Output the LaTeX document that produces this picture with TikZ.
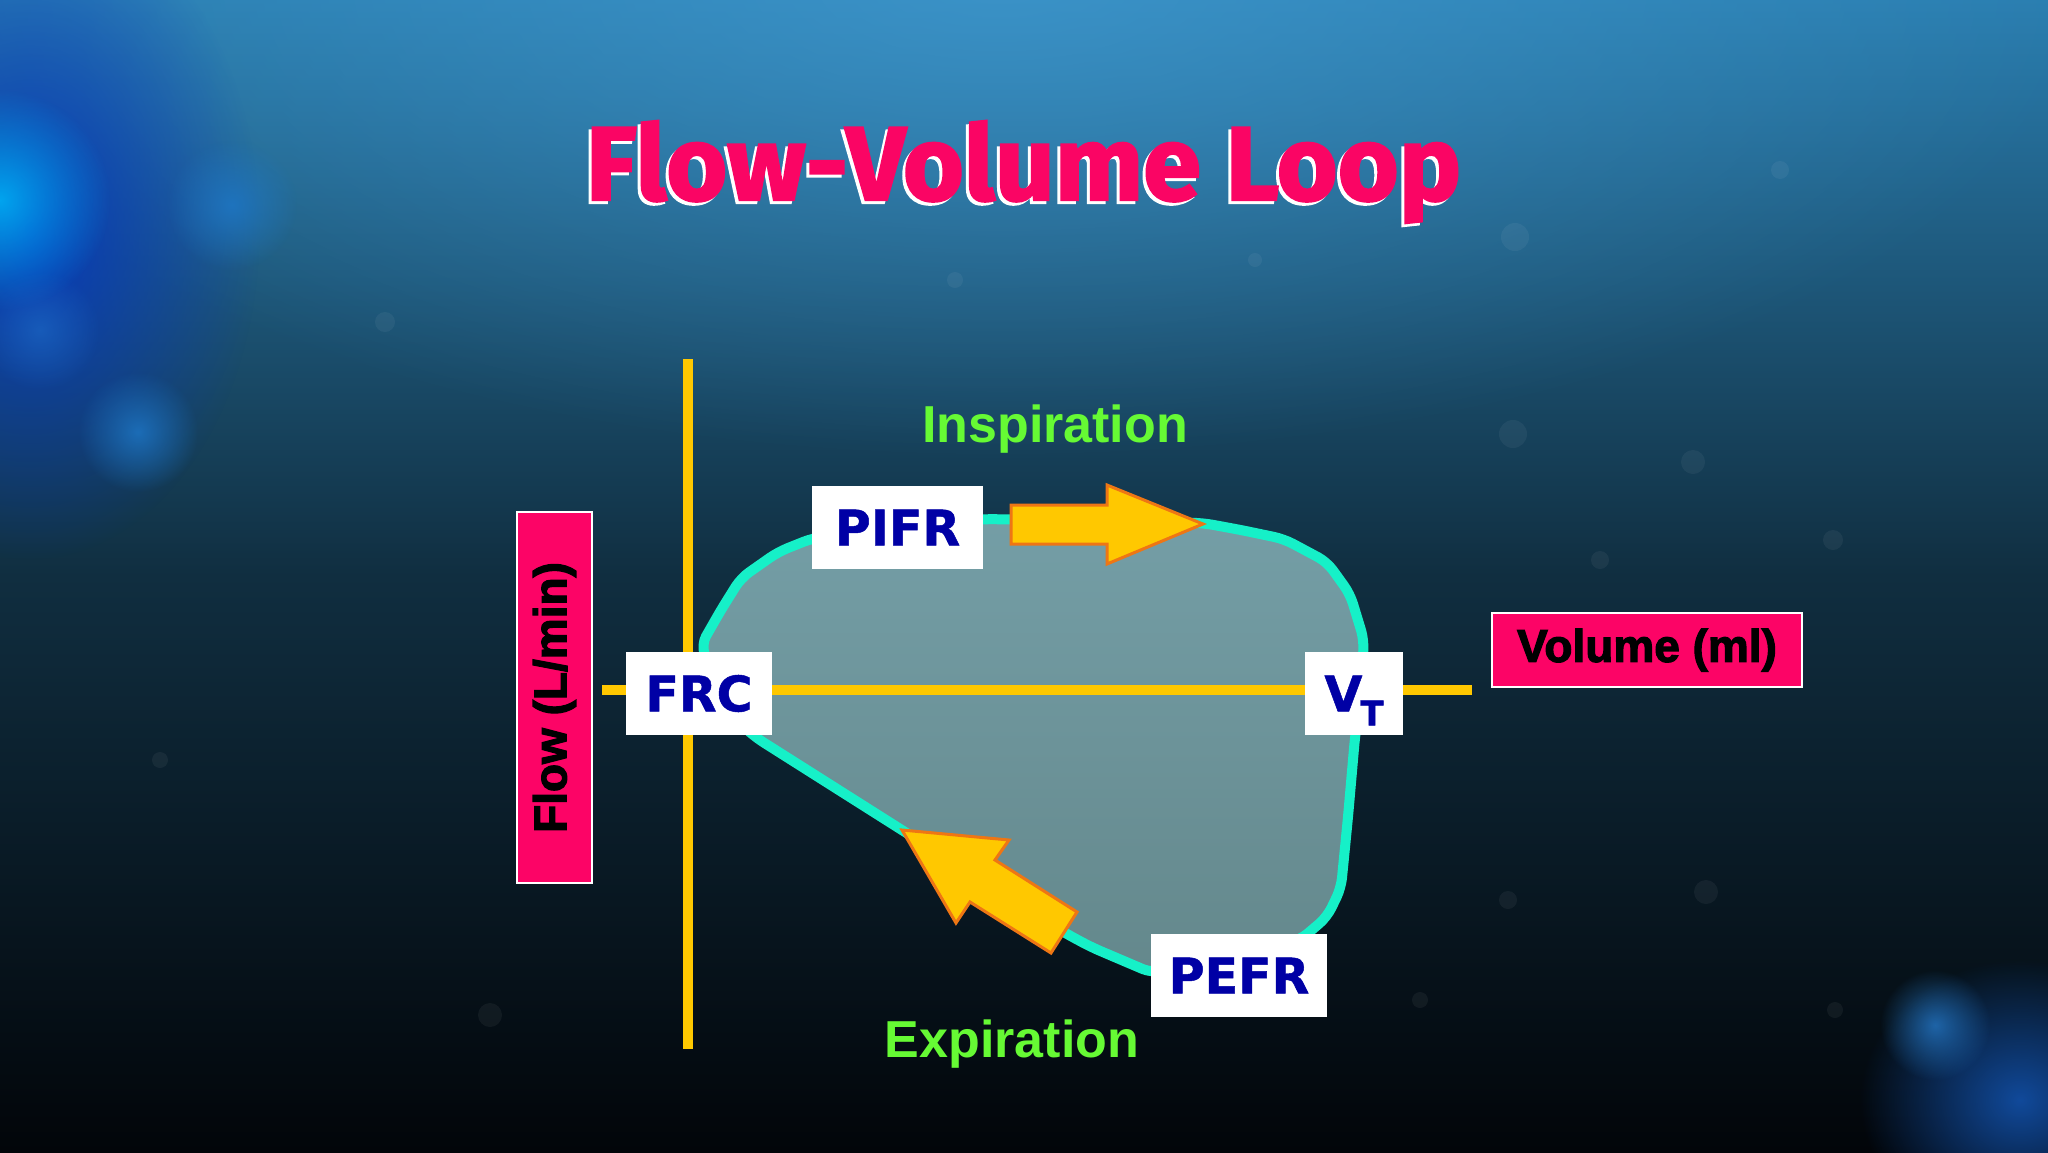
\documentclass[tikz,border=0pt]{standalone}
\usepackage{fontspec}
\setmainfont{Liberation Sans}
\newfontfamily\titlefont{Fira Sans}[BoldFeatures={FakeBold=2}]
\newfontfamily\labfont{DejaVu Sans}[BoldFeatures={FakeBold=1}]
\newfontfamily\heavyfont{Liberation Sans}[BoldFeatures={FakeBold=2.5}]
\usetikzlibrary{fadings}
\tikzfading[name=glowfade, inner color=transparent!0, outer color=transparent!100]
\definecolor{bgtop}{RGB}{42,126,176}
\definecolor{bgmid}{RGB}{16,46,64}
\definecolor{bgbot}{RGB}{2,5,9}
\definecolor{pinkc}{RGB}{252,4,102}
\definecolor{titlec}{RGB}{250,5,100}
\definecolor{axisc}{RGB}{255,200,0}
\definecolor{loopc}{RGB}{22,240,200}
\definecolor{filltop}{RGB}{116,158,166}
\definecolor{fillbot}{RGB}{100,136,140}
\definecolor{arrowc}{RGB}{255,200,0}
\definecolor{arrowedge}{RGB}{238,118,20}
\definecolor{labblue}{RGB}{0,0,165}
\definecolor{greenc}{RGB}{102,250,52}
\newcommand\mytitle{\resizebox{875pt}{!}{\titlefont\bfseries Flow-Volume Loop}}
\begin{document}
\begin{tikzpicture}[x=1pt,y=-1pt,
  axisline/.style={draw=axisc, line width=9.5pt},
  labelbox/.style={fill=white, inner sep=0pt, minimum height=83pt, text=labblue,
    font={\labfont\bfseries\fontsize{49}{49}\selectfont}},
  pinkbox/.style={fill=pinkc, draw=white, line width=2.5pt, inner sep=0pt,
    font={\heavyfont\bfseries\fontsize{46}{46}\selectfont}, text=black},
  phase/.style={anchor=base, text=greenc, font={\bfseries\fontsize{52}{52}\selectfont}},
  bigarrow/.style={fill=arrowc, draw=arrowedge, line width=3pt, line join=miter},
  glow/.style={path fading=glowfade}
]
\useasboundingbox (0,0) rectangle (2048,1152);
% background
\shade[top color=bgtop, bottom color=bgbot, middle color=bgmid] (0,0) rectangle (2048,1152);
\fill[glow, color={rgb,255:red,70;green,160;blue,215}, opacity=0.6] (1000,-20) ellipse (1100 and 480);
\fill[glow, color={rgb,255:red,6;green,55;blue,190}, opacity=0.95] (30,230) ellipse (230 and 330);
\fill[glow, color={rgb,255:red,0;green,175;blue,245}, opacity=0.9] (0,200) circle (110);
\fill[glow, color={rgb,255:red,30;green,120;blue,200}, opacity=0.8] (232,205) circle (65);
\fill[glow, color={rgb,255:red,30;green,120;blue,200}, opacity=0.8] (138,432) circle (60);
\fill[glow, color={rgb,255:red,30;green,110;blue,200}, opacity=0.6] (40,330) circle (60);
\fill[glow, color={rgb,255:red,20;green,90;blue,190}, opacity=0.8] (2020,1100) ellipse (160 and 140);
\fill[glow, color={rgb,255:red,40;green,130;blue,215}, opacity=0.7] (1935,1025) circle (55);
\foreach \px/\py/\r in {1515/237/14,1513/434/14,1693/462/12,1833/540/10,385/322/10,
  490/1015/12,1706/892/12,1508/900/9,1600/560/9,955/280/8,1780/170/9,160/760/8,
  1835/1010/8,1255/260/7,1420/1000/8}
  \fill[white, opacity=0.05] (\px,\py) circle (\r);
% title
\node[anchor=base, text=white] (titleshadow) at (1020.5,203) {\mytitle};
\node[anchor=base, text=titlec] (title) at (1023.5,200) {\mytitle};
% loop
\path[draw=loopc, line width=10pt, line join=round, rounded corners=10pt,
  top color=filltop, bottom color=fillbot]
  (701,645) -- (721,610) -- (741,578) -- (778,552) -- (813,538) -- (984,519)
  -- (1203,523) -- (1241,530) -- (1284,539) -- (1327,562) -- (1350,594)
  -- (1364,640) -- (1360,700) -- (1355,737) -- (1348,817) -- (1341,888)
  -- (1327,917) -- (1300,940) -- (1152,973) -- (1091,947) -- (1065,933)
  -- (905,832) -- (755,737) -- (728,712) -- cycle;
% axes
\coordinate (ytop) at (688,359);
\coordinate (ybot) at (688,1049);
\coordinate (xl) at (602,690);
\coordinate (xr) at (1472,690);
\draw[axisline] (ytop) -- (ybot);
\draw[axisline] (xl) -- (xr);
% arrows
\draw[bigarrow] (1011,505) -- (1107,505) -- (1107,485) -- (1203,524) -- (1107,564)
  -- (1107,544) -- (1011,544) -- cycle;
\draw[bigarrow] (902,830) -- (1009,840) -- (995,860) -- (1077,912) -- (1051,953)
  -- (970,902) -- (956,923) -- cycle;
% labels
\node[labelbox, minimum width=146pt] (frc) at (699,693.5) {FRC};
\node[labelbox, minimum width=171pt] (pifr) at (897.5,527.5) {PIFR};
\node[labelbox, minimum width=98pt] (vt) at (1354,693.5)
  {V\kern-2pt\smash{\raisebox{-14pt}{\fontsize{34}{34}\selectfont T}}};
\node[labelbox, minimum width=176pt] (pefr) at (1239,975.5) {PEFR};
\node[pinkbox, minimum width=310pt, minimum height=74pt] (volume) at (1647,650) {Volume (ml)};
\node[pinkbox, rotate=90, minimum width=371pt, minimum height=75pt] (flow) at (554.5,697.5) {Flow (L/min)};
\node[phase] (insp) at (1055,442) {Inspiration};
\node[phase] (expi) at (1012,1057) {Expiration};
\end{tikzpicture}
\end{document}
